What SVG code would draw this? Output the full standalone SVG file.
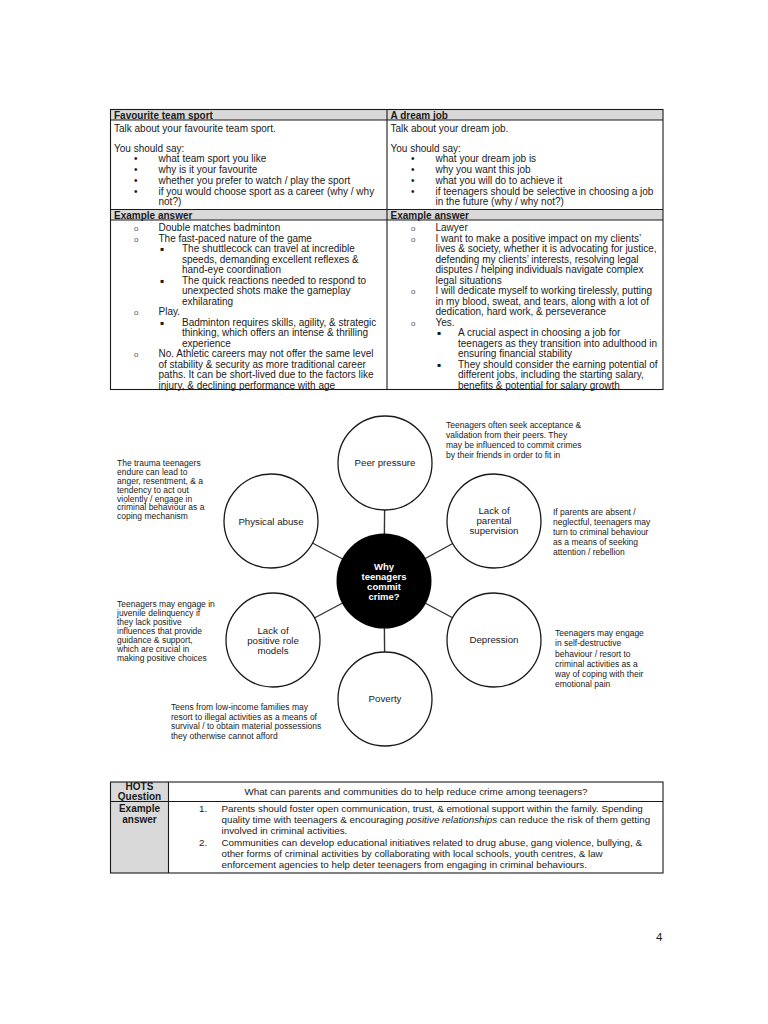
<svg xmlns="http://www.w3.org/2000/svg" width="768" height="1024" viewBox="0 0 768 1024">
<style>
text{font-family:"Liberation Sans",Arial,sans-serif;fill:#1a1a1a}
.t{font-size:10px}
.t2{font-size:9.8px}
.b{font-size:10px;font-weight:bold}
.bl{font-size:10px}
.o{font-size:8px;fill:#555}
.sq{font-size:6px;font-family:"DejaVu Sans",sans-serif}
.n{font-size:8.5px}
.c{font-size:9.7px;text-anchor:middle}
.w{font-size:9.5px;font-weight:bold;fill:#fff;text-anchor:middle}
.ln{stroke:#1a1a1a;stroke-width:1.1;fill:none}
.hd{fill:#d9d9d9}
.node{fill:#fff;stroke:#1a1a1a;stroke-width:1.3}
.con{stroke:#333;stroke-width:1.4}
</style>
<rect width="768" height="1024" fill="#fff"/>

<g id="top-table">
<rect class="hd" x="110.5" y="109.5" width="552.5" height="10.5"/>
<rect class="hd" x="110.5" y="209.5" width="552.5" height="10.5"/>
<rect class="ln" x="110.5" y="109.5" width="552.5" height="280"/>
<line class="ln" x1="110.5" y1="120" x2="663" y2="120"/>
<line class="ln" x1="110.5" y1="209.5" x2="663" y2="209.5"/>
<line class="ln" x1="110.5" y1="220" x2="663" y2="220"/>
<line class="ln" x1="387" y1="109.5" x2="387" y2="389.5"/>

<text class="b" x="114" y="118.5">Favourite team sport</text>
<text class="t" x="114" y="131.5">Talk about your favourite team sport.</text>
<text class="t" x="114" y="151.5">You should say:</text>
<text class="bl" x="134" y="162">•</text><text class="t" x="158.5" y="162">what team sport you like</text>
<text class="bl" x="134" y="172.5">•</text><text class="t" x="158.5" y="172.5">why is it your favourite</text>
<text class="bl" x="134" y="183.5">•</text><text class="t" x="158.5" y="183.5">whether you prefer to watch / play the sport</text>
<text class="bl" x="134" y="194.5">•</text><text class="t" x="158.5" y="194.5">if you would choose sport as a career (why / why</text>
<text class="t" x="158.5" y="205">not?)</text>
<text class="b" x="114" y="218.5">Example answer</text>
<text class="o" x="134" y="231">o</text><text class="t" x="158.5" y="231">Double matches badminton</text>
<text class="o" x="134" y="241.5">o</text><text class="t" x="158.5" y="241.5">The fast-paced nature of the game</text>
<text class="sq" x="160" y="251">▪</text><text class="t" x="182" y="252">The shuttlecock can travel at incredible</text>
<text class="t" x="182" y="262.5">speeds, demanding excellent reflexes &amp;</text>
<text class="t" x="182" y="273">hand-eye coordination</text>
<text class="sq" x="160" y="282.5">▪</text><text class="t" x="182" y="283.5">The quick reactions needed to respond to</text>
<text class="t" x="182" y="294">unexpected shots make the gameplay</text>
<text class="t" x="182" y="304.5">exhilarating</text>
<text class="o" x="134" y="315">o</text><text class="t" x="158.5" y="315">Play.</text>
<text class="sq" x="160" y="324.5">▪</text><text class="t" x="182" y="325.5">Badminton requires skills, agility, &amp; strategic</text>
<text class="t" x="182" y="336">thinking, which offers an intense &amp; thrilling</text>
<text class="t" x="182" y="346.5">experience</text>
<text class="o" x="134" y="357">o</text><text class="t" x="158.5" y="357">No. Athletic careers may not offer the same level</text>
<text class="t" x="158.5" y="367.5">of stability &amp; security as more traditional career</text>
<text class="t" x="158.5" y="378">paths. It can be short-lived due to the factors like</text>
<text class="t" x="158.5" y="388.5">injury, &amp; declining performance with age</text>

<text class="b" x="390.5" y="118.5">A dream job</text>
<text class="t" x="390.5" y="131.5">Talk about your dream job.</text>
<text class="t" x="390.5" y="151.5">You should say:</text>
<text class="bl" x="411" y="162">•</text><text class="t" x="435.5" y="162">what your dream job is</text>
<text class="bl" x="411" y="172.5">•</text><text class="t" x="435.5" y="172.5">why you want this job</text>
<text class="bl" x="411" y="183.5">•</text><text class="t" x="435.5" y="183.5">what you will do to achieve it</text>
<text class="bl" x="411" y="194.5">•</text><text class="t" x="435.5" y="194.5">if teenagers should be selective in choosing a job</text>
<text class="t" x="435.5" y="205">in the future (why / why not?)</text>
<text class="b" x="390.5" y="218.5">Example answer</text>
<text class="o" x="411" y="231">o</text><text class="t" x="435.5" y="231">Lawyer</text>
<text class="o" x="411" y="241.5">o</text><text class="t" x="435.5" y="241.5">I want to make a positive impact on my clients’</text>
<text class="t" x="435.5" y="252">lives &amp; society, whether it is advocating for justice,</text>
<text class="t" x="435.5" y="262.5">defending my clients’ interests, resolving legal</text>
<text class="t" x="435.5" y="273">disputes / helping individuals navigate complex</text>
<text class="t" x="435.5" y="283.5">legal situations</text>
<text class="o" x="411" y="294">o</text><text class="t" x="435.5" y="294">I will dedicate myself to working tirelessly, putting</text>
<text class="t" x="435.5" y="304.5">in my blood, sweat, and tears, along with a lot of</text>
<text class="t" x="435.5" y="315">dedication, hard work, &amp; perseverance</text>
<text class="o" x="411" y="325.5">o</text><text class="t" x="435.5" y="325.5">Yes.</text>
<text class="sq" x="437" y="335">▪</text><text class="t" x="458" y="336">A crucial aspect in choosing a job for</text>
<text class="t" x="458" y="346.5">teenagers as they transition into adulthood in</text>
<text class="t" x="458" y="357">ensuring financial stability</text>
<text class="sq" x="437" y="366.5">▪</text><text class="t" x="458" y="367.5">They should consider the earning potential of</text>
<text class="t" x="458" y="378">different jobs, including the starting salary,</text>
<text class="t" x="458" y="388.5">benefits &amp; potential for salary growth</text>
</g>

<g id="connectors">
<line class="con" x1="384" y1="581" x2="385" y2="463"/>
<line class="con" x1="384" y1="581" x2="271" y2="521"/>
<line class="con" x1="384" y1="581" x2="494" y2="521"/>
<line class="con" x1="384" y1="581" x2="273" y2="640"/>
<line class="con" x1="384" y1="581" x2="494" y2="640"/>
<line class="con" x1="384" y1="581" x2="385" y2="699"/>
</g>

<g id="node-center">
<circle cx="384" cy="581" r="47.5" fill="#000"/>
<text class="w" x="384" y="569.5">Why</text>
<text class="w" x="384" y="579.5">teenagers</text>
<text class="w" x="384" y="589.5">commit</text>
<text class="w" x="384" y="599.5">crime?</text>
</g>
<g id="node-peer">
<circle class="node" cx="385" cy="463" r="47"/>
<text class="c" x="385" y="465.5">Peer pressure</text>
</g>
<g id="node-physical">
<circle class="node" cx="271" cy="521" r="47"/>
<text class="c" x="271" y="524.5">Physical abuse</text>
</g>
<g id="node-parental">
<circle class="node" cx="494" cy="521" r="47"/>
<text class="c" x="494" y="514">Lack of</text>
<text class="c" x="494" y="524">parental</text>
<text class="c" x="494" y="533.5">supervision</text>
</g>
<g id="node-role">
<circle class="node" cx="273" cy="640" r="47"/>
<text class="c" x="273" y="633.5">Lack of</text>
<text class="c" x="273" y="644">positive role</text>
<text class="c" x="273" y="654">models</text>
</g>
<g id="node-depression">
<circle class="node" cx="494" cy="640" r="47"/>
<text class="c" x="494" y="643">Depression</text>
</g>
<g id="node-poverty">
<circle class="node" cx="385" cy="699" r="47"/>
<text class="c" x="385" y="702">Poverty</text>
</g>

<g id="notes">
<text class="n" x="446" y="428">Teenagers often seek acceptance &amp;</text>
<text class="n" x="446" y="438">validation from their peers. They</text>
<text class="n" x="446" y="448">may be influenced to commit crimes</text>
<text class="n" x="446" y="458">by their friends in order to fit in</text>

<text class="n" x="117" y="466.3">The trauma teenagers</text>
<text class="n" x="117" y="475.1">endure can lead to</text>
<text class="n" x="117" y="483.9">anger, resentment, &amp; a</text>
<text class="n" x="117" y="492.7">tendency to act out</text>
<text class="n" x="117" y="501.5">violently / engage in</text>
<text class="n" x="117" y="510.3">criminal behaviour as a</text>
<text class="n" x="117" y="519.1">coping mechanism</text>

<text class="n" x="553" y="514.7">If parents are absent /</text>
<text class="n" x="553" y="524.7">neglectful, teenagers may</text>
<text class="n" x="553" y="534.7">turn to criminal behaviour</text>
<text class="n" x="553" y="544.7">as a means of seeking</text>
<text class="n" x="553" y="554.7">attention / rebellion</text>

<text class="n" x="117" y="607.3">Teenagers may engage in</text>
<text class="n" x="117" y="616.2">juvenile delinquency if</text>
<text class="n" x="117" y="625.1">they lack positive</text>
<text class="n" x="117" y="634">influences that provide</text>
<text class="n" x="117" y="642.9">guidance &amp; support,</text>
<text class="n" x="117" y="651.8">which are crucial in</text>
<text class="n" x="117" y="660.7">making positive choices</text>

<text class="n" x="555" y="636.3">Teenagers may engage</text>
<text class="n" x="555" y="646.4">in self-destructive</text>
<text class="n" x="555" y="656.5">behaviour / resort to</text>
<text class="n" x="555" y="666.6">criminal activities as a</text>
<text class="n" x="555" y="676.7">way of coping with their</text>
<text class="n" x="555" y="686.8">emotional pain</text>

<text class="n" x="171" y="710.3">Teens from low-income families may</text>
<text class="n" x="171" y="719.7">resort to illegal activities as a means of</text>
<text class="n" x="171" y="729.1">survival / to obtain material possessions</text>
<text class="n" x="171" y="738.5">they otherwise cannot afford</text>
</g>

<g id="hots-table">
<rect class="hd" x="110.5" y="782" width="58" height="91"/>
<rect class="ln" x="110.5" y="782" width="552.5" height="91"/>
<line class="ln" x1="110.5" y1="801.5" x2="663" y2="801.5"/>
<line class="ln" x1="168.5" y1="782" x2="168.5" y2="873"/>
<text class="b" x="139.5" y="789.5" text-anchor="middle">HOTS</text>
<text class="b" x="139.5" y="799.5" text-anchor="middle">Question</text>
<text class="t2" x="416" y="794.5" text-anchor="middle">What can parents and communities do to help reduce crime among teenagers?</text>
<text class="b" x="139.5" y="812" text-anchor="middle">Example</text>
<text class="b" x="139.5" y="823" text-anchor="middle">answer</text>
<text class="t2" x="199" y="812">1.</text>
<text class="t2" x="221.5" y="812">Parents should foster open communication, trust, &amp; emotional support within the family. Spending</text>
<text class="t2" x="221.5" y="823">quality time with teenagers &amp; encouraging <tspan font-style="italic">positive relationships</tspan> can reduce the risk of them getting</text>
<text class="t2" x="221.5" y="834">involved in criminal activities.</text>
<text class="t2" x="199" y="845.5">2.</text>
<text class="t2" x="221.5" y="845.5">Communities can develop educational initiatives related to drug abuse, gang violence, bullying, &amp;</text>
<text class="t2" x="221.5" y="856.5">other forms of criminal activities by collaborating with local schools, youth centres, &amp; law</text>
<text class="t2" x="221.5" y="867.5">enforcement agencies to help deter teenagers from engaging in criminal behaviours.</text>
</g>

<text x="656" y="941" font-size="11.5">4</text>
</svg>
